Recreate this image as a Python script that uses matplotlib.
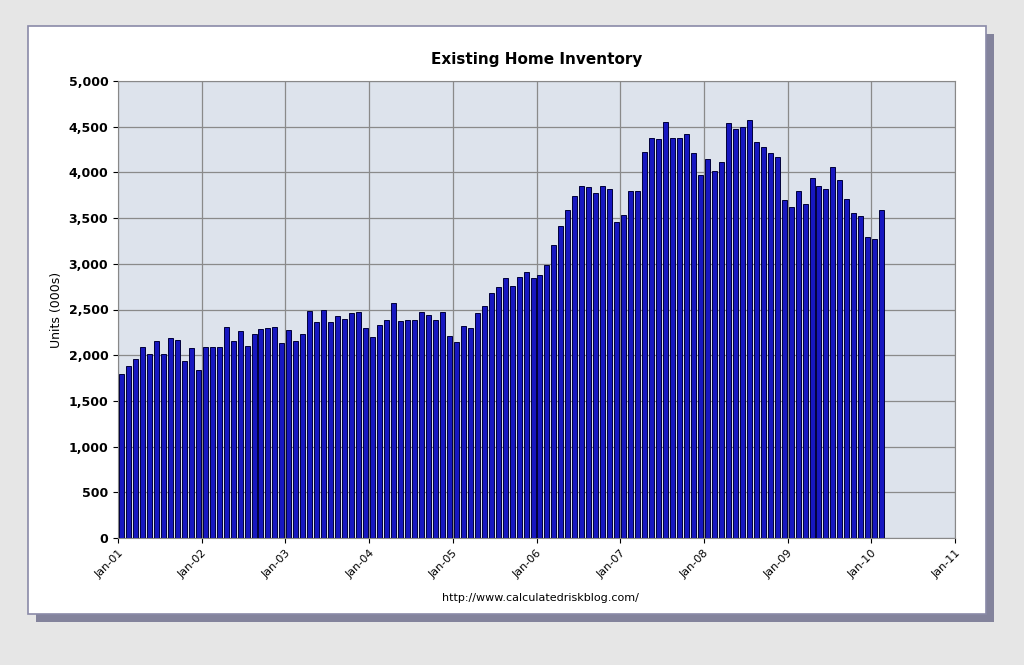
import matplotlib.pyplot as plt
import numpy as np
from matplotlib.patches import Rectangle

# Existing home inventory, thousands of units, Jan-2001 .. Feb-2010
inventory = [
    1790, 1880, 1960, 2090, 2010, 2150, 2010, 2190, 2170, 1940, 2080, 1840,  # 2001
    2090, 2090, 2090, 2310, 2160, 2260, 2100, 2230, 2290, 2300, 2310, 2130,  # 2002
    2280, 2150, 2230, 2480, 2360, 2490, 2360, 2430, 2400, 2460, 2470, 2300,  # 2003
    2200, 2330, 2380, 2570, 2370, 2390, 2390, 2470, 2440, 2390, 2470, 2210,  # 2004
    2140, 2320, 2300, 2460, 2540, 2680, 2750, 2840, 2760, 2860, 2910, 2840,  # 2005
    2880, 2990, 3210, 3410, 3590, 3740, 3850, 3840, 3770, 3850, 3820, 3460,  # 2006
    3530, 3800, 3800, 4220, 4380, 4370, 4550, 4380, 4380, 4420, 4210, 3970,  # 2007
    4150, 4010, 4110, 4540, 4480, 4500, 4570, 4330, 4280, 4210, 4170, 3700,  # 2008
    3620, 3800, 3650, 3940, 3850, 3820, 4060, 3920, 3710, 3560, 3520, 3290,  # 2009
    3270, 3590,                                                              # 2010
]
tick_labels = ['Jan-01', 'Jan-02', 'Jan-03', 'Jan-04', 'Jan-05', 'Jan-06',
               'Jan-07', 'Jan-08', 'Jan-09', 'Jan-10', 'Jan-11']

fig = plt.figure(figsize=(10.24, 6.65), dpi=100)
fig.patch.set_facecolor('#e6e6e6')

# chart panel with shadow
fig.patches.append(Rectangle((36 / 1024, 1 - 622 / 665), 958 / 1024, 588 / 665,
                             transform=fig.transFigure, facecolor='#6a6a8a',
                             edgecolor='none', zorder=0, alpha=0.8))
fig.patches.append(Rectangle((28 / 1024, 1 - 614 / 665), 958 / 1024, 588 / 665,
                             transform=fig.transFigure, facecolor='white',
                             edgecolor='#8a8aa8', linewidth=1.2, zorder=1))

ax = fig.add_axes([118 / 1024, 1 - 538 / 665, 837 / 1024, 457 / 665])
ax.set_zorder(5)
ax.set_facecolor('#dde3ec')
x = np.arange(len(inventory)) + 0.5
ax.bar(x, inventory, width=0.72, color='#1717c0', edgecolor='#00003a', linewidth=0.7, zorder=3)

ax.set_xlim(0, 120)
ax.set_ylim(0, 5000)
ax.set_xticks(np.arange(0, 121, 12))
ax.set_xticklabels(tick_labels, rotation=45, ha='right', rotation_mode='anchor', fontsize=8)
ax.set_yticks(np.arange(0, 5001, 500))
ax.yaxis.set_major_formatter(plt.FuncFormatter(lambda v, p: f"{int(v):,}"))
ax.tick_params(axis='y', labelsize=9)
for lab in ax.get_yticklabels():
    lab.set_fontweight('bold')
ax.grid(True, color='#8a8a8a', linewidth=0.9, zorder=0)
for s in ax.spines.values():
    s.set_color('#888888')

ax.set_title("Existing Home Inventory", fontsize=11, fontweight='bold', pad=12)
ax.set_ylabel("Units (000s)", fontsize=9)
fig.text(540 / 1024, 1 - 598 / 665, "http://www.calculatedriskblog.com/",
         ha='center', va='center', fontsize=8, zorder=6)

fig.savefig('out.png', dpi=100, facecolor=fig.get_facecolor())
